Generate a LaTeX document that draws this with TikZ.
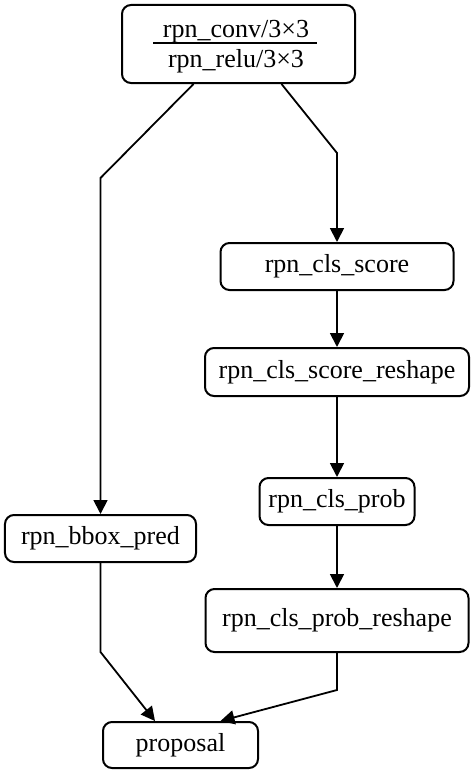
\documentclass[tikz,border=0pt]{standalone}
\usepackage{fontspec}
\setmainfont{Liberation Serif}
\usetikzlibrary{arrows.meta}
\begin{document}
\begin{tikzpicture}[x=1bp,y=-1bp,
  box/.style={draw,line width=2bp,rounded corners=9bp,inner sep=0pt,
    font=\fontsize{26bp}{30bp}\selectfont},
  txt/.style={inner sep=0pt,font=\fontsize{26bp}{30bp}\selectfont},
  conn/.style={line width=1.8bp,-{Triangle[length=14bp,width=14bp]}},
  plain/.style={line width=1.8bp}]
\useasboundingbox (0,0) rectangle (474,773);
\node[box,minimum width=233bp,minimum height=78bp] (top) at (238.5,44) {};
\node[txt,anchor=base] (t1) at (236,38) {rpn\_conv/3×3};
\node[txt,anchor=base] (t2) at (236,68) {rpn\_relu/3×3};
\coordinate (r1) at (153,43);
\coordinate (r2) at (317,43);
\draw[plain] (r1) -- (r2);

\node[box,minimum width=233bp,minimum height=47bp] (score) at (337,266.5) {rpn\_cls\_score};
\node[box,minimum width=264bp,minimum height=48bp] (sreshape) at (337,372) {rpn\_cls\_score\_reshape};
\node[box,minimum width=155bp,minimum height=47bp] (prob) at (337,501.5) {rpn\_cls\_prob};
\node[box,minimum width=263bp,minimum height=63bp] (preshape) at (337,620.5) {rpn\_cls\_prob\_reshape};
\node[box,minimum width=191bp,minimum height=47bp] (bbox) at (100.5,538.5) {rpn\_bbox\_pred};
\node[box,minimum width=155bp,minimum height=46bp] (proposal) at (180.5,745) {proposal};

\coordinate (lk) at (100.5,178);
\coordinate (rk) at (337,153);
\coordinate (bk) at (100.5,652);
\coordinate (pk) at (337,690);

\draw[conn] ([xshift=-45bp]top.south) -- (lk) -- (bbox.north);
\draw[conn] ([xshift=43bp]top.south) -- (rk) -- (score.north);
\draw[conn] (score) -- (sreshape);
\draw[conn] (sreshape) -- (prob);
\draw[conn] (prob) -- (preshape);
\draw[conn] (bbox.south) -- (bk) -- ([xshift=-25.5bp]proposal.north);
\draw[conn] (preshape.south) -- (pk) -- ([xshift=40bp]proposal.north);
\end{tikzpicture}
\end{document}
